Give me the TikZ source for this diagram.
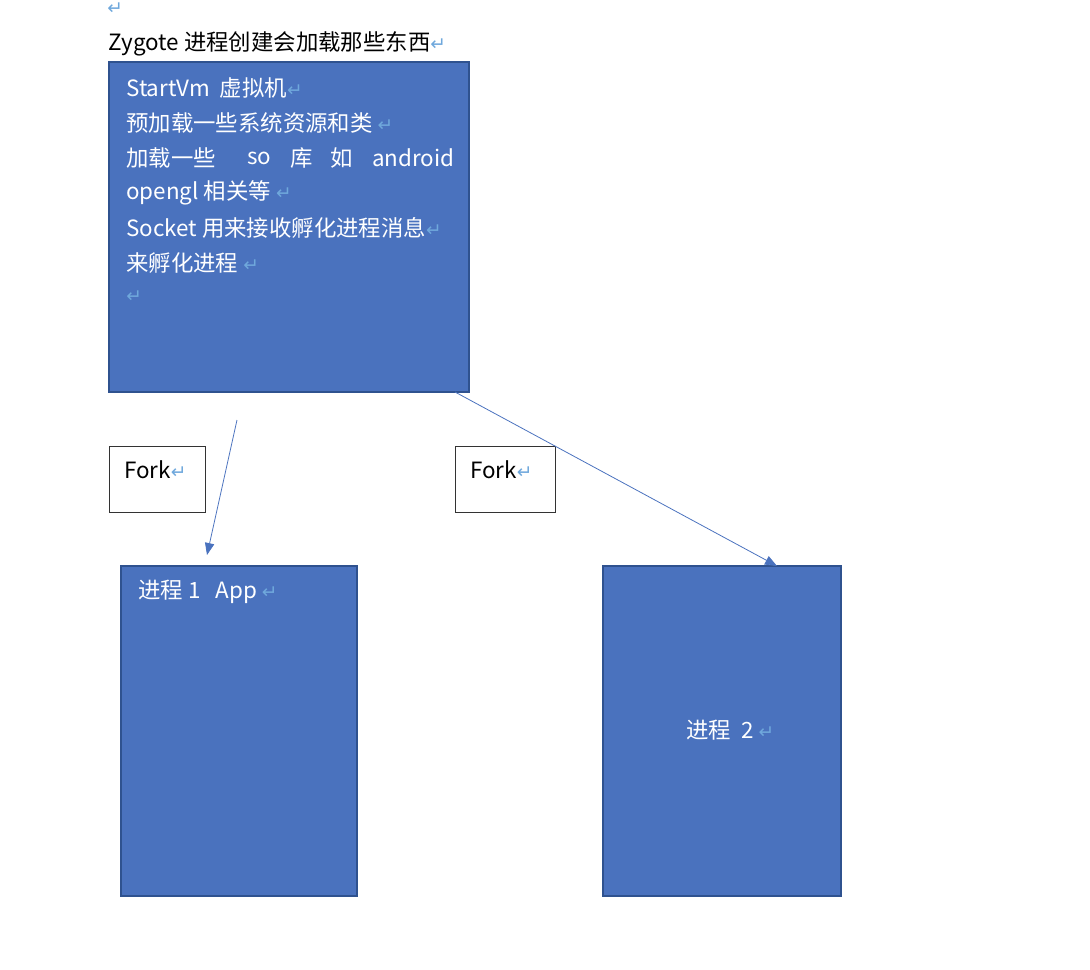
\documentclass[tikz,border=0pt]{standalone}
\usepackage{fontspec}
\setmainfont{Noto Sans CJK SC}
\newfontfamily\dejavu{DejaVu Sans}
\usetikzlibrary{arrows.meta}
\definecolor{wblue}{HTML}{4A72BE}
\definecolor{wedge}{HTML}{2F528F}
\definecolor{retc}{HTML}{6FA8DC}
\newcommand{\rt}{{\dejavu\color{retc}\fontsize{14pt}{14pt}\selectfont ↵}}
\tikzset{
 bluebox/.style={draw=wedge,fill=wblue,line width=0.9pt},
 forkbox/.style={draw=black!80,line width=0.6pt},
 wt/.style={text=white,anchor=west,inner sep=0pt,font=\fontsize{16.8pt}{17pt}\selectfont},
 bt/.style={text=black,anchor=west,inner sep=0pt,font=\fontsize{16.8pt}{17pt}\selectfont},
 conn/.style={draw=wblue,line width=0.6pt,-{Triangle[length=9pt,width=7pt]}}
}
\begin{document}
\begin{tikzpicture}[x=0.75pt,y=-0.75pt]
\useasboundingbox (0,0) rectangle (1090,970);
\node[bt] (r0) at (107,9) {\rt};
\node[bt] (title) at (108,44) {Zygote 进程创建会加载那些东西\rt};
\draw[bluebox] (109,62) rectangle (469,392);
\coordinate (big) at (455,392);
\node[wt] (l1) at (126,88) {StartVm\ \ 虚拟机\rt};
\node[wt] (l2) at (126,123) {预加载一些系统资源和类 \rt};
\node[wt] (l3a) at (126,158) {加载一些};
\node[wt] (l3b) at (247,158) {so};
\node[wt] (l3c) at (290,158) {库};
\node[wt] (l3d) at (330,158) {如};
\node[wt] (l3e) at (372,158) {android};
\node[wt] (l4) at (126,193) {opengl 相关等 \rt};
\node[wt] (l5) at (126,228) {Socket 用来接收孵化进程消息\rt};
\node[wt] (l6) at (126,263) {来孵化进程 \rt};
\node[wt] (l7) at (126,297) {\rt};
\draw[forkbox] (109,446) rectangle (205,512);
\node[bt] (f1) at (124,470) {Fork\rt};
\draw[forkbox] (455,446) rectangle (555,512);
\node[bt] (f2) at (470,470) {Fork\rt};
\draw[bluebox] (121,566) rectangle (357,896);
\node[wt] (p1) at (138,592) {进程 1\ \ \ App \rt};
\draw[bluebox] (603,566) rectangle (841,896);
\node[wt] (p2) at (686,730) {进程\ \ 2 \rt};
\coordinate (s1) at (237,420);
\coordinate (e1) at (207,555);
\coordinate (e2) at (777,566);
\draw[conn] (s1) -- (e1);
\draw[conn] (big) -- (e2);
\end{tikzpicture}
\end{document}
